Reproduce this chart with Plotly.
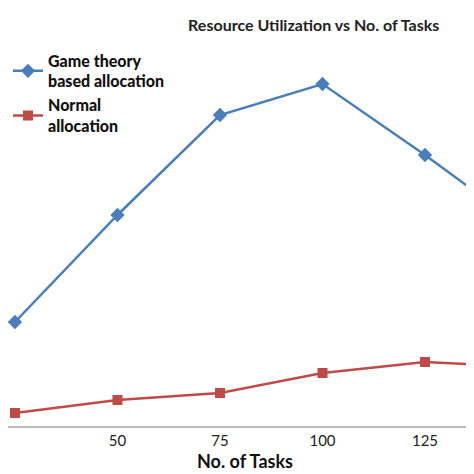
import plotly.graph_objects as go

tasks = [25, 50, 75, 100, 125, 150]
game_theory = [38.6, 60.0, 80.0, 86.2, 72.0, 57.0]
normal = [20.4, 23.0, 24.4, 28.4, 30.6, 29.6]

fig = go.Figure()
fig.add_trace(go.Scatter(
    x=tasks, y=game_theory, mode="lines+markers",
    name="Game theory<br>based allocation",
    line=dict(color="#4A7EBB", width=2.5),
    marker=dict(symbol="diamond", size=11, color="#4A7EBB"),
))
fig.add_trace(go.Scatter(
    x=tasks, y=normal, mode="lines+markers",
    name="Normal<br>allocation",
    line=dict(color="#BE4B48", width=2.5),
    marker=dict(symbol="square", size=10, color="#BE4B48"),
))

fig.update_layout(
    width=474, height=474,
    margin=dict(l=0, r=0, t=0, b=56),
    plot_bgcolor="white", paper_bgcolor="white",
    font=dict(family="Lato", size=13, color="#222"),
    title=dict(text="<b>Resource Utilization vs No. of Tasks</b>", x=0.645, y=0.975,
               xanchor="center", font=dict(size=16, color="#222")),
    legend=dict(x=0.0, y=0.915, xanchor="left", yanchor="top", tracegroupgap=40,
                font=dict(size=16, color="#111", family="Lato Black"),
                bgcolor="rgba(0,0,0,0)"),
    xaxis=dict(range=[23.3, 138.9], tickvals=tasks, showgrid=False,
               showline=True, linecolor="#BBBBBB", linewidth=1.5, ticks="",
               tickfont=dict(size=15, color="#222"),
               title=dict(text="<b>No. of Tasks</b>", font=dict(size=18, color="#111"), standoff=8)),
    yaxis=dict(range=[17.8, 101.4], visible=False),
)

fig.write_html("out.html")
